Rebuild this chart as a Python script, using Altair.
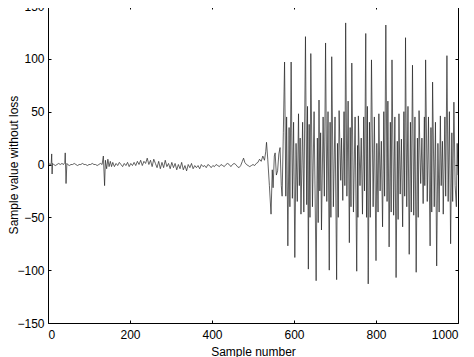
import altair as alt
import pandas as pd

# sample numbers and sample values
quiet_n = [
    0, 3, 6, 8, 9, 10, 11, 14, 18, 22, 26, 30, 34, 38, 41, 42, 44, 46, 48, 52,
    56, 60, 64, 68, 72, 76, 80, 84, 88, 92, 96, 100, 104, 108, 112, 116, 120, 124, 128, 132,
    135, 138, 140, 143, 146, 149, 152, 155, 158, 162, 166, 170, 174, 178, 182, 186, 190, 194, 198, 202,
    206, 210, 214, 218, 222, 226, 230, 234, 238, 242, 246, 250, 254, 258, 262, 266, 270, 274, 278, 282,
    286, 290, 294, 298, 302, 306, 310, 314, 318, 322, 326, 330, 334, 338, 342, 346, 350, 354, 358, 362,
    366, 370, 374, 378, 382, 386, 390, 394, 398, 402, 406, 410, 414, 418, 422, 426, 430, 434, 438, 442,
    446, 450, 454, 458, 462, 466, 470, 474, 477, 480, 484, 488, 492, 496, 500, 504, 508, 512, 516, 520,
    524, 528, 531, 533, 536, 540, 544, 547, 549, 552, 554, 557, 560, 563, 566, 569, 571, 574,
]
quiet_v = [
    0, 1, -1, 2, 10, -9, 1, 0, -1, 0, 1, 0, 1, 0, 2, 11, -18, 1, 0, -1,
    0, 0, 1, 0, -1, 0, 0, 1, 0, 0, -1, 0, 0, 1, 0, 0, -1, 0, 1, 0,
    8, -20, 4, -4, 5, -2, 3, -2, 2, -2, 1, -1, 2, 0, -2, 1, -1, 2, -2, 1,
    -1, 2, -1, 3, 0, 4, -1, 3, 1, 6, 0, 4, -2, 5, 1, -3, 3, -4, 2, -3,
    4, -2, 1, -4, 2, -3, 1, -5, 0, -4, 2, -5, -1, -6, 0, -3, 1, -4, -1, -3,
    -1, -4, 0, -2, -1, -3, 0, -1, -3, -1, -2, 0, -1, -2, 0, -1, -2, 0, 1, 0,
    -2, 0, 1, 0, -2, -3, -1, 3, 6, 2, 0, -1, -2, -1, 0, -1, 1, 2, 5, 3,
    8, 4, 12, 21, 5, -20, -47, -5, -22, 8, 11, -10, -6, 10, 16, -20, -30, 30,
]
loud_n = [
    577, 580, 582, 585, 588, 590, 593, 596, 599, 602, 605, 608, 611, 613, 615, 617, 621, 624, 628, 631,
    633, 635, 637, 639, 641, 645, 649, 654, 657, 659, 661, 663, 665, 667, 671, 674, 677, 680, 683, 686,
    688, 690, 692, 696, 700, 704, 706, 708, 710, 714, 716, 719, 722, 724, 726, 729, 732, 735, 737, 739,
    741, 745, 749, 753, 755, 756, 757, 761, 764, 767, 770, 772, 775, 777, 779, 781, 784, 786, 789, 793,
    796, 800, 802, 805, 807, 810, 813, 816, 819, 821, 824, 827, 829, 832, 835, 837, 839, 843, 846, 849,
    852, 854, 856, 859, 862, 865, 868, 870, 872, 875, 878, 881, 884, 886, 889, 892, 895, 898, 901, 903,
    905, 909, 912, 915, 918, 919, 921, 925, 928, 932, 934, 936, 938, 942, 945, 948, 951, 954, 957, 959,
    962, 964, 968, 970, 973, 976, 979, 982, 985, 987, 990, 993, 996, 998, 1000,
]
loud_v = [
    97, -30, 45, -77, 35, -40, 97, -32, 40, -88, 20, -35, 48, -20, 25, -47, 40, -45, 121, -38,
    55, -99, 38, -50, 105, -40, 50, -110, 25, -55, 61, -25, 30, -62, 45, -30, 115, -35, 50, -100,
    40, -50, 102, -40, 45, -109, 20, -50, 51, -15, 25, -34, 50, -20, 134, -30, 60, -74, 35, -40,
    96, -45, 45, -101, 18, -50, 46, -20, 25, -47, 45, -25, 124, -50, 55, -113, 40, -50, 99, -40,
    45, -91, 20, -45, 48, -25, 22, -59, 50, -30, 132, -35, 60, -78, 40, -45, 99, -48, 45, -107,
    22, -52, 48, -28, 24, -59, 50, -30, 120, -40, 55, -85, 40, -45, 94, -48, 45, -102, 25, -50,
    51, -18, 25, -37, 45, -20, 99, -35, 45, -77, 35, -45, 78, -40, 40, -96, 20, -45, 46, -20,
    22, -47, 45, -30, 103, -35, 50, -75, 30, -35, 59, -20, -40, 20, -10,
]

x_ticks = [0, 200, 400, 600, 800, 1000]
y_ticks = [-150, -100, -50, 0, 50, 100, 150]

df = pd.DataFrame({"n": quiet_n + loud_n, "v": quiet_v + loud_v})

FONT = "Liberation Sans"
xs = alt.Scale(domain=[0, 1000], nice=False, zero=False)
ys = alt.Scale(domain=[-150, 150], nice=False, zero=False)

main = alt.Chart(df).mark_line(color="#222222", strokeWidth=0.7).encode(
    x=alt.X("n:Q", scale=xs, axis=alt.Axis(
        orient="bottom", values=x_ticks, format="d", title="Sample number", offset=-3, tickSize=3,
        domain=False, grid=False, labelPadding=6, titleY=26, titleBaseline="top")),
    y=alt.Y("v:Q", scale=ys, axis=alt.Axis(
        orient="left", values=y_ticks, format="d", title="Sample value without loss", offset=-3,
        tickSize=3, domain=False, grid=False, labelPadding=4, titleX=-31, titleY=158.5)),
)

ghost = alt.Chart(df).mark_line(opacity=0).encode(
    x=alt.X("n:Q", scale=xs, axis=alt.Axis(
        orient="top", values=x_ticks, labels=False, title=None, offset=-3, tickSize=3,
        domain=False, grid=False)),
    y=alt.Y("v:Q", scale=ys, axis=alt.Axis(
        orient="right", values=y_ticks, labels=False, title=None, offset=-3, tickSize=3,
        domain=False, grid=False)),
)

chart = alt.layer(main, ghost).resolve_scale(
    x="independent", y="independent"
).resolve_axis(
    x="independent", y="independent"
).properties(
    width=410, height=317,
    autosize=alt.AutoSizeParams(type="none"),
    padding={"left": 40, "top": -2, "right": 8, "bottom": 34},
).configure_view(
    stroke="#000000", strokeWidth=1
).configure_axis(
    labelFont=FONT, labelFontSize=12, labelColor="#000000",
    titleFont=FONT, titleFontSize=12, titleFontWeight="normal", titleColor="#000000",
    tickColor="#000000", tickWidth=1,
)

chart.save("out.html", embed_options={"renderer": "svg", "actions": False})
